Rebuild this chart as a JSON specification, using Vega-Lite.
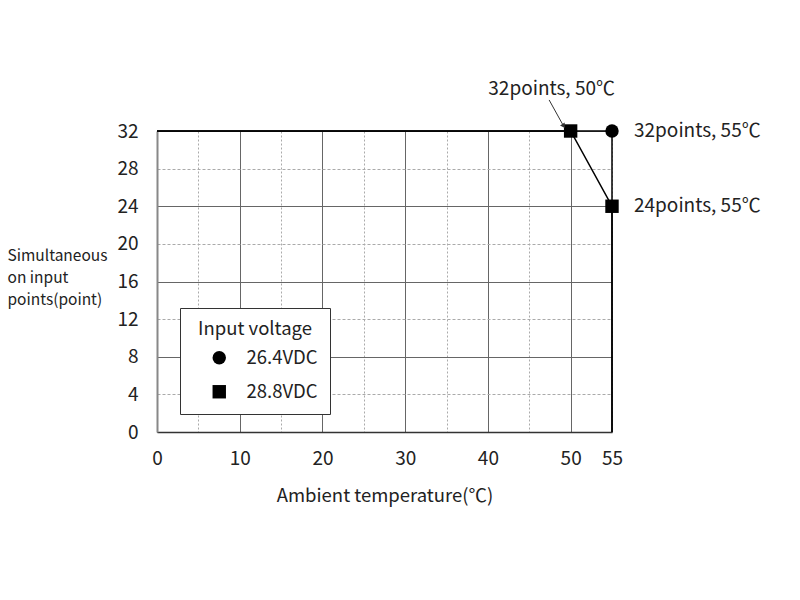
{
  "$schema": "https://vega.github.io/schema/vega-lite/v6.json",
  "width": 455,
  "height": 301,
  "autosize": "none",
  "padding": {"left": 157, "top": 131, "right": 188, "bottom": 168},
  "background": "white",
  "config": {
    "font": "Noto Sans CJK JP",
    "view": {"stroke": null},
    "axis": {"labelFont": "Noto Sans CJK JP", "titleFont": "Noto Sans CJK JP", "labelColor": "#222", "titleColor": "#222", "titleFontWeight": "normal"},
    "legend": {"labelFont": "Noto Sans CJK JP", "titleFont": "Noto Sans CJK JP"}
  },
  "datasets": {
    "lines": [
      {"series": "26.4VDC", "ord": 1, "temp": 0, "points": 32},
      {"series": "26.4VDC", "ord": 2, "temp": 55, "points": 32},
      {"series": "26.4VDC", "ord": 3, "temp": 55, "points": 0},
      {"series": "28.8VDC", "ord": 1, "temp": 0, "points": 32},
      {"series": "28.8VDC", "ord": 2, "temp": 50, "points": 32},
      {"series": "28.8VDC", "ord": 3, "temp": 55, "points": 24},
      {"series": "28.8VDC", "ord": 4, "temp": 55, "points": 0}
    ],
    "markers": [
      {"series": "26.4VDC", "temp": 55, "points": 32},
      {"series": "28.8VDC", "temp": 50, "points": 32},
      {"series": "28.8VDC", "temp": 55, "points": 24}
    ]
  },
  "layer": [
    {
      "data": {"name": "lines"},
      "mark": {"type": "line", "color": "black", "strokeWidth": 1.5},
      "encoding": {
        "x": {
          "field": "temp", "type": "quantitative",
          "scale": {"domain": [0, 55], "nice": false, "zero": false},
          "axis": {
            "values": [0, 5, 10, 15, 20, 25, 30, 35, 40, 45, 50, 55],
            "tickCount": 30,
            "labelExpr": "datum.value % 10 === 5 && datum.value !== 55 ? '' : datum.label",
            "labelOverlap": false,
            "labelFlush": false,
            "title": "Ambient temperature(℃)",
            "titleFontSize": 18.5,
            "titlePadding": 18,
            "labelFontSize": 19,
            "labelPadding": 17,
            "ticks": false,
            "domainColor": "#333",
            "domainWidth": 1.5,
            "grid": true,
            "gridColor": {"condition": {"test": "datum.value % 10 === 5", "value": "#aaa"}, "value": "#666"},
            "gridDash": {"condition": {"test": "datum.value % 10 === 5", "value": [2, 2]}, "value": []},
            "gridWidth": 1,
            "gridOpacity": 1
          }
        },
        "y": {
          "field": "points", "type": "quantitative",
          "scale": {"domain": [0, 32], "nice": false},
          "axis": {
            "values": [0, 4, 8, 12, 16, 20, 24, 28, 32],
            "tickCount": 30,
            "labelOverlap": false,
            "labelFlush": false,
            "title": ["Simultaneous", "on input", "points(point)"],
            "titleAngle": 0,
            "titleAlign": "left",
            "titleBaseline": "top",
            "titleX": -150,
            "titleY": 117,
            "titleFontSize": 15.5,
            "titleLineHeight": 22,
            "labelFontSize": 19,
            "labelPadding": 19,
            "ticks": false,
            "domainColor": "#888",
            "domainWidth": 2,
            "grid": true,
            "gridColor": {"condition": {"test": "datum.value % 8 === 4", "value": "#aaa"}, "value": "#666"},
            "gridDash": {"condition": {"test": "datum.value % 8 === 4", "value": [3, 2]}, "value": []},
            "gridWidth": 1,
            "gridOpacity": 1
          }
        },
        "detail": {"field": "series"},
        "order": {"field": "ord"}
      }
    },
    {
      "data": {"name": "markers"},
      "mark": {"type": "point", "filled": true, "color": "black", "opacity": 1},
      "encoding": {
        "x": {"field": "temp", "type": "quantitative"},
        "y": {"field": "points", "type": "quantitative"},
        "shape": {
          "field": "series", "type": "nominal",
          "scale": {"domain": ["26.4VDC", "28.8VDC"], "range": ["circle", "square"]},
          "legend": {
            "title": "Input voltage",
            "orient": "none",
            "legendX": 23,
            "legendY": 177,
            "strokeColor": "#333",
            "fillColor": "white",
            "padding": 12,
            "titleFontSize": 18.5,
            "titleFontWeight": "normal",
            "titleColor": "#222",
            "titlePadding": 10,
            "titleAnchor": "middle",
            "labelFontSize": 18.5,
            "labelColor": "#222",
            "labelOffset": 18,
            "symbolOffset": 18,
            "symbolSize": 180,
            "symbolFillColor": "black",
            "symbolStrokeColor": "black",
            "symbolOpacity": 1,
            "rowPadding": 14,
            "offset": 0
          }
        },
        "size": {"value": 180}
      }
    },
    {
      "data": {"values": [{"x1": 47.4, "y1": 35.3, "x2": 49.1, "y2": 32.6}]},
      "mark": {"type": "rule", "color": "#333", "strokeWidth": 1},
      "encoding": {
        "x": {"field": "x1", "type": "quantitative"},
        "y": {"field": "y1", "type": "quantitative"},
        "x2": {"field": "x2"},
        "y2": {"field": "y2"}
      }
    },
    {
      "data": {"values": [{"x": 49.1, "y": 32.6}]},
      "mark": {"type": "point", "shape": "triangle", "filled": true, "color": "#333", "size": 30, "angle": 148, "opacity": 1},
      "encoding": {
        "x": {"field": "x", "type": "quantitative"},
        "y": {"field": "y", "type": "quantitative"}
      }
    },
    {
      "data": {"values": [{"temp": 55, "points": 32, "label": "32points, 55℃"}, {"temp": 55, "points": 24, "label": "24points, 55℃"}]},
      "mark": {"type": "text", "align": "left", "baseline": "middle", "dx": 22, "fontSize": 19, "color": "#222", "font": "Noto Sans CJK JP"},
      "encoding": {
        "x": {"field": "temp", "type": "quantitative"},
        "y": {"field": "points", "type": "quantitative"},
        "text": {"field": "label"}
      }
    },
    {
      "data": {"values": [{"temp": 50, "points": 32, "label": "32points, 50℃"}]},
      "mark": {"type": "text", "align": "center", "baseline": "middle", "dx": -19, "dy": -42, "fontSize": 19, "color": "#222", "font": "Noto Sans CJK JP"},
      "encoding": {
        "x": {"field": "temp", "type": "quantitative"},
        "y": {"field": "points", "type": "quantitative"},
        "text": {"field": "label"}
      }
    }
  ]
}
